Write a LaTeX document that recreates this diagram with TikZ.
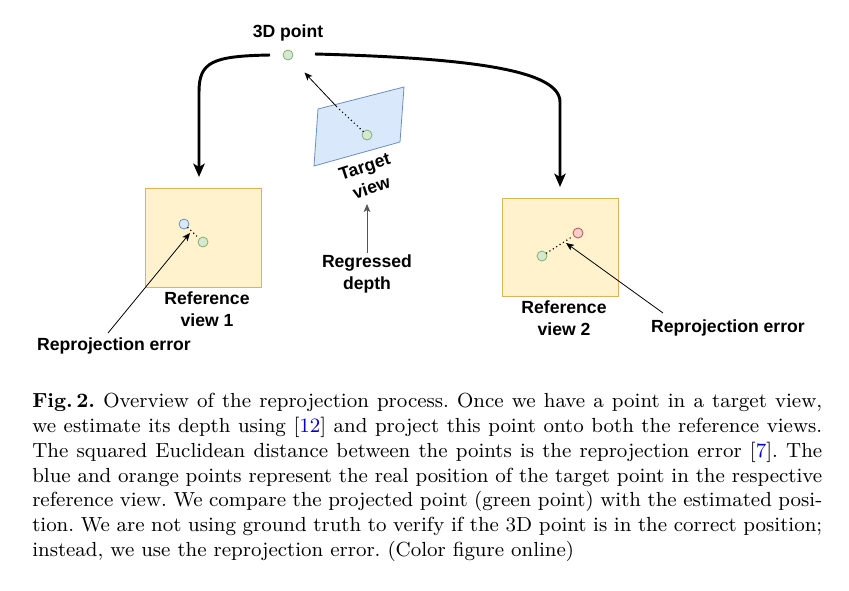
\documentclass[tikz,border=0pt]{standalone}
\usepackage{fontspec}
\setmainfont{lmroman9-regular.otf}[BoldFont=lmroman9-bold.otf]
\newfontfamily\diafont{Liberation Sans}
\usetikzlibrary{arrows.meta}
\definecolor{ptgreen}{HTML}{D5E8D4}
\definecolor{ptgreenline}{HTML}{82B366}
\definecolor{ptblue}{HTML}{DAE8FC}
\definecolor{ptblueline}{HTML}{6C8EBF}
\definecolor{ptred}{HTML}{F8CECC}
\definecolor{ptredline}{HTML}{B85450}
\definecolor{refyellow}{HTML}{FFF2CC}
\definecolor{refyellowline}{HTML}{D6B656}
\definecolor{arrowgray}{HTML}{555555}
\definecolor{citeblue}{RGB}{0,0,200}
\newcommand{\citenum}[1]{[{\color{citeblue}#1}]}
\tikzset{
  ptnode/.style={circle, minimum size=7.5pt, inner sep=0pt, line width=0.6pt},
  lbl/.style={font=\diafont\bfseries\fontsize{13.2}{16.5}\selectfont, align=center, inner sep=0pt},
  refbox/.style={draw=refyellowline, fill=refyellow, line width=0.6pt, minimum width=87pt},
  bigarrow/.style={line width=2.2pt, -{Stealth[length=10pt,width=8.5pt,inset=2.5pt]}},
  thinarrow/.style={line width=0.6pt, -{Stealth[length=6pt,width=5pt,inset=1.5pt]}},
  dotline/.style={line width=1.2pt, dash pattern=on 0pt off 3pt, line cap=round}
}
\begin{document}
\begin{tikzpicture}[x=0.75pt,y=-0.75pt]
  \useasboundingbox (0,0) rectangle (849,590);

  \node[ptnode, fill=ptgreen, draw=ptgreenline] (p3d) at (288,55) {};
  \node[lbl] (t3d) at (288,33) {3D point};

  \draw[fill=ptblue, draw=ptblueline, line width=0.6pt] (318,109) -- (404,87) -- (400,142) -- (314,166) -- cycle;
  \node[ptnode, fill=ptgreen, draw=ptgreenline] (ptv) at (367,135) {};
  \coordinate (tvtop) at (337,107);
  \draw[dotline] (ptv) -- (tvtop);
  \draw[thinarrow, shorten >=14pt] (tvtop) -- (p3d);
  \node[lbl, rotate=18] (ltv) at (368,177) {Target\\view};

  \node[lbl] (lrd) at (367,274) {Regressed\\depth};
  \coordinate (rdtip) at (367,204);
  \draw[thinarrow, draw=arrowgray] (lrd.north) ++(0,-2) -- (rdtip);

  \node[refbox, minimum height=74.25pt] (rv1) at (203,237.5) {};
  \node[refbox, minimum height=73.5pt] (rv2) at (560,247) {};
  \node[lbl] (lrv1) at (207,309) {Reference\\view 1};
  \node[lbl] (lrv2) at (564,318) {Reference\\view 2};

  \coordinate (out1) at (270,55);
  \coordinate (in1) at (199,177);
  \coordinate (out2) at (315,54);
  \coordinate (in2) at (560,187);
  \draw[bigarrow] (out1) .. controls (212,56) and (199,62) .. (199,92) -- (in1);
  \draw[bigarrow] (out2) .. controls (470,58) and (560,70) .. (560,102) -- (in2);

  \node[ptnode, fill=ptblue, draw=ptblueline] (b1) at (184,224) {};
  \node[ptnode, fill=ptgreen, draw=ptgreenline] (g1) at (203,242) {};
  \draw[dotline] (b1) -- (g1);
  \node[ptnode, fill=ptred, draw=ptredline] (r2) at (578,233) {};
  \node[ptnode, fill=ptgreen, draw=ptgreenline] (g2) at (542,256) {};
  \draw[dotline] (g2) -- (r2);

  \node[lbl] (err1) at (114,346) {Reprojection error};
  \node[lbl] (err2) at (728,328) {Reprojection error};
  \coordinate (e1tip) at (190,233);
  \coordinate (e2tip) at (566,243);
  \coordinate (e1start) at (108,333);
  \coordinate (e2start) at (663,313);
  \draw[thinarrow] (e1start) -- (e1tip);
  \draw[thinarrow] (e2start) -- (e2tip);

  \node[anchor=north west, inner sep=0pt, text width=592.5pt, align=justify,
        font=\fontsize{15.3}{18.6}\selectfont\frenchspacing] (cap) at (32,393) {%
    \textbf{Fig.\,2.} Overview of the reprojection process. Once we have a point in a target view,\linebreak
    we estimate its depth using \citenum{12} and project this point onto both the reference views.\linebreak
    The squared Euclidean distance between the points is the reprojection error \citenum{7}. The\linebreak
    blue and orange points represent the real position of the target point in the respective\linebreak
    reference view. We compare the projected point (green point) with the estimated posi-\linebreak
    tion. We are not using ground truth to verify if the 3D point is in the correct position;\linebreak
    instead, we use the reprojection error. (Color figure online)};
\end{tikzpicture}
\end{document}
